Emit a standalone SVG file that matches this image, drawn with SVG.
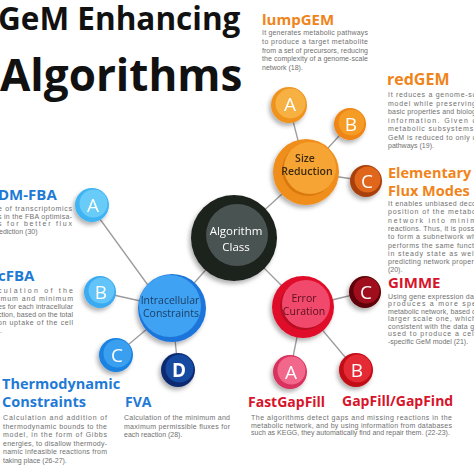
<svg xmlns="http://www.w3.org/2000/svg" width="474" height="474" viewBox="0 0 474 474">
<defs>
<filter id="sh" x="-30%" y="-30%" width="160%" height="160%">
<feDropShadow dx="-2" dy="3" stdDeviation="2" flood-color="#000" flood-opacity="0.3"/>
</filter>
</defs>
<style>
.title{font-family:"Open Sans","Liberation Sans",sans-serif;font-weight:700;fill:#111}
.h{font-family:"Open Sans","Liberation Sans",sans-serif;font-weight:700}
.or{fill:#f0841a}.rd{fill:#d7142b}.bl{fill:#1f7ad6}
.d{font-family:"Liberation Sans",Arial,sans-serif;font-size:7px;fill:#707070}
.conn line{stroke:#9c9c9c;stroke-width:1.3}
.lbl{font-family:"Open Sans","Liberation Sans",sans-serif;text-anchor:middle}
.let{font-family:"Open Sans","Liberation Sans",sans-serif;font-size:19px;fill:#fff;text-anchor:middle}
</style>
<rect width="474" height="474" fill="#fff"/>

<g id="title">
<text class="title" x="-2" y="30" font-size="31.5">GeM Enhancing</text>
<text class="title" x="0" y="91" font-size="44">Algorithms</text>
</g>

<g id="connectors" class="conn">
<line x1="234" y1="238" x2="306" y2="172"/>
<line x1="234" y1="238" x2="172" y2="308"/>
<line x1="234" y1="238" x2="303" y2="307"/>
<line x1="306" y1="172" x2="289" y2="105"/>
<line x1="306" y1="172" x2="350" y2="124"/>
<line x1="306" y1="172" x2="366" y2="181"/>
<line x1="97" y1="215" x2="150" y2="288"/>
<line x1="172" y1="308" x2="100" y2="292"/>
<line x1="172" y1="308" x2="116" y2="355"/>
<line x1="172" y1="308" x2="178" y2="370"/>
<line x1="303" y1="307" x2="365" y2="292"/>
<line x1="303" y1="307" x2="290" y2="372"/>
<line x1="303" y1="307" x2="356" y2="370"/>
</g>

<g id="algorithm-class" filter="url(#sh)">
<circle cx="234" cy="238" r="43" fill="#1d201f"/>
<circle cx="237" cy="235" r="31" fill="#4a5351"/>
<text class="lbl" x="236" y="235" font-size="11.5" fill="#fff">Algorithm</text>
<text class="lbl" x="236" y="251" font-size="11.5" fill="#fff">Class</text>
</g>

<g id="size-reduction" filter="url(#sh)">
<circle cx="306" cy="172" r="33" fill="#f08e1c"/>
<circle cx="308" cy="170" r="26" fill="#d97810"/>
<circle cx="310" cy="168" r="26" fill="#f6a534"/>
<text class="lbl" x="305" y="162" font-size="10.5" font-weight="600" fill="#3d2a10">Size</text>
<text class="lbl" x="307" y="175" font-size="10.5" font-weight="600" fill="#3d2a10">Reduction</text>
</g>

<g id="size-a" filter="url(#sh)">
<circle cx="289" cy="105" r="18" fill="#f0931c"/>
<circle cx="290.5" cy="103.5" r="15" fill="#f7b043"/>
<text class="let" x="290" y="110.5">A</text>
</g>
<g id="size-b" filter="url(#sh)">
<circle cx="350" cy="124" r="16" fill="#ee8512"/>
<circle cx="351.5" cy="122.5" r="13" fill="#f59c28"/>
<text class="let" x="351" y="130.5">B</text>
</g>
<g id="size-c" filter="url(#sh)">
<circle cx="366" cy="181" r="16" fill="#a8400a"/>
<circle cx="367.5" cy="179.5" r="13" fill="#e0661a"/>
<text class="let" x="367" y="187.5">C</text>
</g>

<g id="intracellular-constraints" filter="url(#sh)">
<circle cx="172" cy="308" r="34" fill="#1c74da"/>
<circle cx="170" cy="306" r="31" fill="#3fa2f2"/>
<text class="lbl" x="170" y="304" font-size="10.5" fill="#1d3f66">Intracellular</text>
<text class="lbl" x="171" y="317" font-size="10.5" fill="#1d3f66">Constraints</text>
</g>
<g id="ic-a" filter="url(#sh)">
<circle cx="92" cy="205" r="17" fill="#3fb4f2"/>
<circle cx="93.5" cy="203.5" r="14" fill="#68cbf8"/>
<text class="let" x="93" y="211.5">A</text>
</g>
<g id="ic-b" filter="url(#sh)">
<circle cx="100" cy="292" r="16" fill="#3aaaf0"/>
<circle cx="101.5" cy="290.5" r="13" fill="#62c4f8"/>
<text class="let" x="101" y="298.5">B</text>
</g>
<g id="ic-c" filter="url(#sh)">
<circle cx="116" cy="355" r="17" fill="#1a82e2"/>
<circle cx="117.5" cy="353.5" r="14" fill="#3a9ff0"/>
<text class="let" x="117" y="361.5">C</text>
</g>
<g id="ic-d" filter="url(#sh)">
<circle cx="178" cy="370" r="17" fill="#0a2a70"/>
<circle cx="179.5" cy="368.5" r="14" fill="#1748a0"/>
<text class="let" x="179" y="376.5" font-weight="700">D</text>
</g>

<g id="error-curation" filter="url(#sh)">
<circle cx="303" cy="307" r="31" fill="#e0102a"/>
<circle cx="304" cy="306" r="24" fill="#b80c20"/>
<circle cx="306" cy="304" r="24" fill="#f04a6c"/>
<text class="lbl" x="304" y="302" font-size="10.5" fill="#5a0f1d">Error</text>
<text class="lbl" x="304" y="315" font-size="10.5" fill="#5a0f1d">Curation</text>
</g>
<g id="ec-c" filter="url(#sh)">
<circle cx="365" cy="292" r="16" fill="#5e0407"/>
<circle cx="366.5" cy="290.5" r="13" fill="#a0101a"/>
<text class="let" x="366" y="298.5">C</text>
</g>
<g id="ec-a" filter="url(#sh)">
<circle cx="290" cy="372" r="17" fill="#d8305e"/>
<circle cx="291.5" cy="370.5" r="14" fill="#f2688c"/>
<text class="let" x="291" y="378.5">A</text>
</g>
<g id="ec-b" filter="url(#sh)">
<circle cx="356" cy="370" r="17" fill="#c00812"/>
<circle cx="357.5" cy="368.5" r="14" fill="#e42a36"/>
<text class="let" x="357" y="376.5">B</text>
</g>

<g id="lumpgem">
<text class="h or" x="262" y="25" font-size="15">lumpGEM</text>
<text class="d" x="262" y="35" textLength="106">It generates metabolic pathways</text>
<text class="d" x="262" y="43.8" textLength="106">to produce a target metabolite</text>
<text class="d" x="262" y="52.6" textLength="106">from a set of precursors, reducing</text>
<text class="d" x="262" y="61.4" textLength="106">the complexity of a genome-scale</text>
<text class="d" x="262" y="70.2">network (18).</text>
</g>

<g id="redgem">
<text class="h or" x="387" y="85" font-size="16">redGEM</text>
<text class="d" x="388" y="97" textLength="88">It reduces a genome-sc</text>
<text class="d" x="388" y="105.5" textLength="88">model while preserving</text>
<text class="d" x="388" y="114" textLength="88">basic properties and biolog</text>
<text class="d" x="388" y="122.5" textLength="88">information. Given c</text>
<text class="d" x="388" y="131" textLength="88">metabolic subsystems,</text>
<text class="d" x="388" y="139.5" textLength="88">GeM is reduced to only c</text>
<text class="d" x="388" y="148">pathways (19).</text>
</g>

<g id="efm">
<text class="h or" x="388" y="178" font-size="14.5">Elementary</text>
<text class="h or" x="388" y="196" font-size="14.5">Flux Modes</text>
<text class="d" x="388" y="206" textLength="88">It enables unbiased deco</text>
<text class="d" x="388" y="214.3" textLength="88">position of the metabo</text>
<text class="d" x="388" y="222.6" textLength="88">network into minim</text>
<text class="d" x="388" y="230.9" textLength="88">reactions. Thus, it is possi</text>
<text class="d" x="388" y="239.2" textLength="88">to form a subnetwork wh</text>
<text class="d" x="388" y="247.5" textLength="88">performs the same functi</text>
<text class="d" x="388" y="255.8" textLength="88">in steady state as well</text>
<text class="d" x="388" y="264.1" textLength="88">predicting network propert</text>
<text class="d" x="388" y="272.4">(20).</text>
</g>

<g id="gimme">
<text class="h rd" x="388" y="288" font-size="15">GIMME</text>
<text class="d" x="388" y="298.5" textLength="88">Using gene expression dat</text>
<text class="d" x="388" y="306" textLength="88">produces a more spe</text>
<text class="d" x="388" y="313.5" textLength="88">metabolic network, based o</text>
<text class="d" x="388" y="321" textLength="88">larger scale one, which</text>
<text class="d" x="388" y="328.5" textLength="88">consistent with the data gi</text>
<text class="d" x="388" y="336" textLength="88">used to produce a cell</text>
<text class="d" x="388" y="343.5">-specific GeM model (21).</text>
</g>

<g id="dm-fba">
<text class="h bl" x="-2" y="200" font-size="15">DM-FBA</text>
<text class="d" x="72" y="211" text-anchor="end" textLength="74">e of transcriptomics</text>
<text class="d" x="72" y="218.5" text-anchor="end" textLength="74">s in the FBA optimisa-</text>
<text class="d" x="72" y="226" text-anchor="end" textLength="74">s for better flux</text>
<text class="d" x="-1" y="233.5">ediction (30)</text>
</g>

<g id="cfba">
<text class="h bl" x="-2" y="281" font-size="15">cFBA</text>
<text class="d" x="73" y="293" text-anchor="end" textLength="75">culation of the</text>
<text class="d" x="73" y="301" text-anchor="end" textLength="75">imum and minimum</text>
<text class="d" x="73" y="309" text-anchor="end" textLength="75">es for each intracellular</text>
<text class="d" x="73" y="317" text-anchor="end" textLength="75">ction, based on the total</text>
<text class="d" x="73" y="325" text-anchor="end" textLength="75">on uptake of the cell</text>
<text class="d" x="0" y="333">.</text>
</g>

<g id="thermodynamic">
<text class="h bl" x="2" y="389" font-size="14.5">Thermodynamic</text>
<text class="h bl" x="2" y="407" font-size="14.5">Constraints</text>
<text class="d" x="3" y="420" textLength="104">Calculation and addition of</text>
<text class="d" x="3" y="428.5" textLength="104">thermodynamic bounds to the</text>
<text class="d" x="3" y="437" textLength="104">model, in the form of Gibbs</text>
<text class="d" x="3" y="445.5" textLength="104">energies, to disallow thermody-</text>
<text class="d" x="3" y="454" textLength="104">namic infeasible reactions from</text>
<text class="d" x="3" y="462.5">taking place (26-27).</text>
</g>

<g id="fva">
<text class="h bl" x="125" y="407" font-size="14">FVA</text>
<text class="d" x="124" y="420" textLength="106">Calculation of the minimum and</text>
<text class="d" x="124" y="428.5" textLength="106">maximum permissible fluxes for</text>
<text class="d" x="124" y="437">each reaction (28).</text>
</g>

<g id="gapfill">
<text class="h rd" x="248" y="407" font-size="14">FastGapFill</text>
<text class="h rd" x="342" y="406" font-size="14">GapFill/GapFind</text>
<text class="d" x="251" y="420" textLength="201">The algorithms detect gaps and missing reactions in the</text>
<text class="d" x="251" y="427.5" textLength="201">metabolic network, and by using information from databases</text>
<text class="d" x="251" y="435">such as KEGG, they automatically find and repair them. (22-23).</text>
</g>
</svg>
